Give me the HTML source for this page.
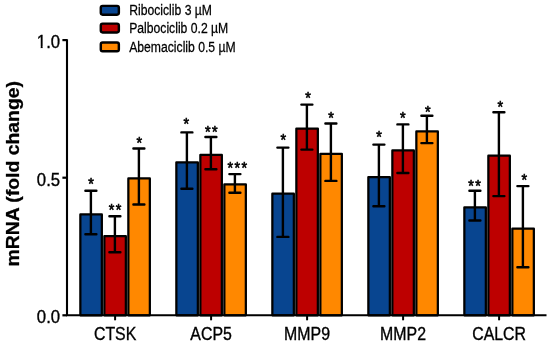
<!DOCTYPE html>
<html><head><meta charset="utf-8"><style>
html,body{margin:0;padding:0;background:#fff;}
svg{display:block;}
text{font-family:"Liberation Sans",Arial,sans-serif;fill:#000;}
</style></head><body>
<svg width="550" height="345" viewBox="0 0 550 345">
<rect x="80.35" y="214.43" width="21.50" height="100.88" fill="#084590" stroke="#000" stroke-width="2.25" stroke-linejoin="round"/>
<rect x="104.35" y="236.03" width="21.50" height="79.28" fill="#bd0000" stroke="#000" stroke-width="2.25" stroke-linejoin="round"/>
<rect x="128.35" y="178.43" width="21.50" height="136.88" fill="#ff8800" stroke="#000" stroke-width="2.25" stroke-linejoin="round"/>
<rect x="176.35" y="162.33" width="21.50" height="152.97" fill="#084590" stroke="#000" stroke-width="2.25" stroke-linejoin="round"/>
<rect x="200.35" y="154.93" width="21.50" height="160.38" fill="#bd0000" stroke="#000" stroke-width="2.25" stroke-linejoin="round"/>
<rect x="224.35" y="184.33" width="21.50" height="130.97" fill="#ff8800" stroke="#000" stroke-width="2.25" stroke-linejoin="round"/>
<rect x="272.35" y="193.73" width="21.50" height="121.57" fill="#084590" stroke="#000" stroke-width="2.25" stroke-linejoin="round"/>
<rect x="296.35" y="128.52" width="21.50" height="186.78" fill="#bd0000" stroke="#000" stroke-width="2.25" stroke-linejoin="round"/>
<rect x="320.35" y="153.83" width="21.50" height="161.47" fill="#ff8800" stroke="#000" stroke-width="2.25" stroke-linejoin="round"/>
<rect x="368.35" y="177.12" width="21.50" height="138.18" fill="#084590" stroke="#000" stroke-width="2.25" stroke-linejoin="round"/>
<rect x="392.35" y="150.43" width="21.50" height="164.88" fill="#bd0000" stroke="#000" stroke-width="2.25" stroke-linejoin="round"/>
<rect x="416.35" y="131.43" width="21.50" height="183.88" fill="#ff8800" stroke="#000" stroke-width="2.25" stroke-linejoin="round"/>
<rect x="464.35" y="207.33" width="21.50" height="107.97" fill="#084590" stroke="#000" stroke-width="2.25" stroke-linejoin="round"/>
<rect x="488.35" y="155.73" width="21.50" height="159.57" fill="#bd0000" stroke="#000" stroke-width="2.25" stroke-linejoin="round"/>
<rect x="512.35" y="228.62" width="21.50" height="86.68" fill="#ff8800" stroke="#000" stroke-width="2.25" stroke-linejoin="round"/>
<path d="M90.90 190.70V234.30M85.40 190.70H96.40M85.40 234.30H96.40" stroke="#000" stroke-width="2.4" stroke-linecap="round" fill="none"/>
<path d="M114.90 216.30V252.20M109.40 216.30H120.40M109.40 252.20H120.40" stroke="#000" stroke-width="2.4" stroke-linecap="round" fill="none"/>
<path d="M138.90 148.50V204.50M133.40 148.50H144.40M133.40 204.50H144.40" stroke="#000" stroke-width="2.4" stroke-linecap="round" fill="none"/>
<path d="M186.90 132.40V188.70M181.40 132.40H192.40M181.40 188.70H192.40" stroke="#000" stroke-width="2.4" stroke-linecap="round" fill="none"/>
<path d="M210.90 137.00V169.30M205.40 137.00H216.40M205.40 169.30H216.40" stroke="#000" stroke-width="2.4" stroke-linecap="round" fill="none"/>
<path d="M234.90 174.10V192.80M229.40 174.10H240.40M229.40 192.80H240.40" stroke="#000" stroke-width="2.4" stroke-linecap="round" fill="none"/>
<path d="M282.90 147.60V236.90M277.40 147.60H288.40M277.40 236.90H288.40" stroke="#000" stroke-width="2.4" stroke-linecap="round" fill="none"/>
<path d="M306.90 104.60V149.60M301.40 104.60H312.40M301.40 149.60H312.40" stroke="#000" stroke-width="2.4" stroke-linecap="round" fill="none"/>
<path d="M330.90 123.50V180.90M325.40 123.50H336.40M325.40 180.90H336.40" stroke="#000" stroke-width="2.4" stroke-linecap="round" fill="none"/>
<path d="M378.90 144.60V206.30M373.40 144.60H384.40M373.40 206.30H384.40" stroke="#000" stroke-width="2.4" stroke-linecap="round" fill="none"/>
<path d="M402.90 124.40V173.00M397.40 124.40H408.40M397.40 173.00H408.40" stroke="#000" stroke-width="2.4" stroke-linecap="round" fill="none"/>
<path d="M426.90 115.80V143.10M421.40 115.80H432.40M421.40 143.10H432.40" stroke="#000" stroke-width="2.4" stroke-linecap="round" fill="none"/>
<path d="M474.90 190.80V220.50M469.40 190.80H480.40M469.40 220.50H480.40" stroke="#000" stroke-width="2.4" stroke-linecap="round" fill="none"/>
<path d="M498.90 112.30V196.10M493.40 112.30H504.40M493.40 196.10H504.40" stroke="#000" stroke-width="2.4" stroke-linecap="round" fill="none"/>
<path d="M522.90 186.10V267.30M517.40 186.10H528.40M517.40 267.30H528.40" stroke="#000" stroke-width="2.4" stroke-linecap="round" fill="none"/>
<path d="M67 39.2V315.3H546.5" stroke="#000" stroke-width="2.1" fill="none"/>
<path d="M62.4 40.1H67" stroke="#000" stroke-width="2.2"/>
<path d="M62.4 177.7H67" stroke="#000" stroke-width="2.2"/>
<path d="M62.4 315.3H67" stroke="#000" stroke-width="2.2"/>
<path d="M115.10 315.3V320.3" stroke="#000" stroke-width="2"/>
<path d="M211.10 315.3V320.3" stroke="#000" stroke-width="2"/>
<path d="M307.10 315.3V320.3" stroke="#000" stroke-width="2"/>
<path d="M403.10 315.3V320.3" stroke="#000" stroke-width="2"/>
<path d="M499.10 315.3V320.3" stroke="#000" stroke-width="2"/>
<text transform="translate(60.1 48.10) scale(0.93 1)" text-anchor="end" font-size="18" stroke="#000" stroke-width="0.35">1.0</text>
<text transform="translate(60.1 185.80) scale(0.93 1)" text-anchor="end" font-size="18" stroke="#000" stroke-width="0.35">0.5</text>
<text transform="translate(60.1 323.40) scale(0.93 1)" text-anchor="end" font-size="18" stroke="#000" stroke-width="0.35">0.0</text>
<rect x="36.4" y="46.0" width="4.3" height="3.5" fill="#fff"/><rect x="42.65" y="46.0" width="3.9" height="3.5" fill="#fff"/><rect x="40.5" y="48.3" width="2.4" height="1.2" fill="#fff"/>
<text transform="translate(115.10 340.3) scale(0.86 1)" text-anchor="middle" font-size="18.5" stroke="#000" stroke-width="0.35">CTSK</text>
<text transform="translate(211.10 340.3) scale(0.86 1)" text-anchor="middle" font-size="18.5" stroke="#000" stroke-width="0.35">ACP5</text>
<text transform="translate(307.10 340.3) scale(0.86 1)" text-anchor="middle" font-size="18.5" stroke="#000" stroke-width="0.35">MMP9</text>
<text transform="translate(403.10 340.3) scale(0.86 1)" text-anchor="middle" font-size="18.5" stroke="#000" stroke-width="0.35">MMP2</text>
<text transform="translate(499.10 340.3) scale(0.86 1)" text-anchor="middle" font-size="18.5" stroke="#000" stroke-width="0.35">CALCR</text>
<text transform="translate(91.70 190.20) scale(0.85 1)" text-anchor="middle" font-size="17" stroke="#000" stroke-width="0.65" letter-spacing="1.6">*</text>
<text transform="translate(115.70 215.80) scale(0.85 1)" text-anchor="middle" font-size="17" stroke="#000" stroke-width="0.65" letter-spacing="1.6">**</text>
<text transform="translate(139.90 148.90) scale(0.85 1)" text-anchor="middle" font-size="17" stroke="#000" stroke-width="0.65" letter-spacing="1.6">*</text>
<text transform="translate(186.90 130.30) scale(0.85 1)" text-anchor="middle" font-size="17" stroke="#000" stroke-width="0.65" letter-spacing="1.6">*</text>
<text transform="translate(212.05 137.50) scale(0.85 1)" text-anchor="middle" font-size="17" stroke="#000" stroke-width="0.65" letter-spacing="1.6">**</text>
<text transform="translate(238.00 174.00) scale(0.85 1)" text-anchor="middle" font-size="17" stroke="#000" stroke-width="0.65" letter-spacing="1.6">***</text>
<text transform="translate(283.95 146.00) scale(0.85 1)" text-anchor="middle" font-size="17" stroke="#000" stroke-width="0.65" letter-spacing="1.6">*</text>
<text transform="translate(308.70 104.00) scale(0.85 1)" text-anchor="middle" font-size="17" stroke="#000" stroke-width="0.65" letter-spacing="1.6">*</text>
<text transform="translate(331.70 123.60) scale(0.85 1)" text-anchor="middle" font-size="17" stroke="#000" stroke-width="0.65" letter-spacing="1.6">*</text>
<text transform="translate(379.80 143.10) scale(0.85 1)" text-anchor="middle" font-size="17" stroke="#000" stroke-width="0.65" letter-spacing="1.6">*</text>
<text transform="translate(403.60 124.30) scale(0.85 1)" text-anchor="middle" font-size="17" stroke="#000" stroke-width="0.65" letter-spacing="1.6">*</text>
<text transform="translate(428.50 117.60) scale(0.85 1)" text-anchor="middle" font-size="17" stroke="#000" stroke-width="0.65" letter-spacing="1.6">*</text>
<text transform="translate(475.30 191.60) scale(0.85 1)" text-anchor="middle" font-size="17" stroke="#000" stroke-width="0.65" letter-spacing="1.6">**</text>
<text transform="translate(501.00 113.10) scale(0.85 1)" text-anchor="middle" font-size="17" stroke="#000" stroke-width="0.65" letter-spacing="1.6">*</text>
<text transform="translate(525.00 186.10) scale(0.85 1)" text-anchor="middle" font-size="17" stroke="#000" stroke-width="0.65" letter-spacing="1.6">*</text>
<text transform="translate(19.2 173.8) rotate(-90) scale(0.995 0.9)" text-anchor="middle" font-size="19.5" font-weight="bold" stroke="#000" stroke-width="0.3">mRNA (fold change)</text>
<rect x="100.8" y="5.85" width="18.05" height="8.8" rx="1.8" fill="#084590" stroke="#000" stroke-width="2.45"/>
<text transform="translate(129.2 15.2) scale(0.87 1)" font-size="14" stroke="#000" stroke-width="0.25">Ribociclib 3 µM</text>
<rect x="100.8" y="23.60" width="18.05" height="8.8" rx="1.8" fill="#bd0000" stroke="#000" stroke-width="2.45"/>
<text transform="translate(129.2 33.4) scale(0.87 1)" font-size="14" stroke="#000" stroke-width="0.25">Palbociclib 0.2 µM</text>
<rect x="100.8" y="42.50" width="18.05" height="8.8" rx="1.8" fill="#ff8800" stroke="#000" stroke-width="2.45"/>
<text transform="translate(129.2 51.8) scale(0.87 1)" font-size="14" stroke="#000" stroke-width="0.25">Abemaciclib 0.5 µM</text>
</svg>
</body></html>
